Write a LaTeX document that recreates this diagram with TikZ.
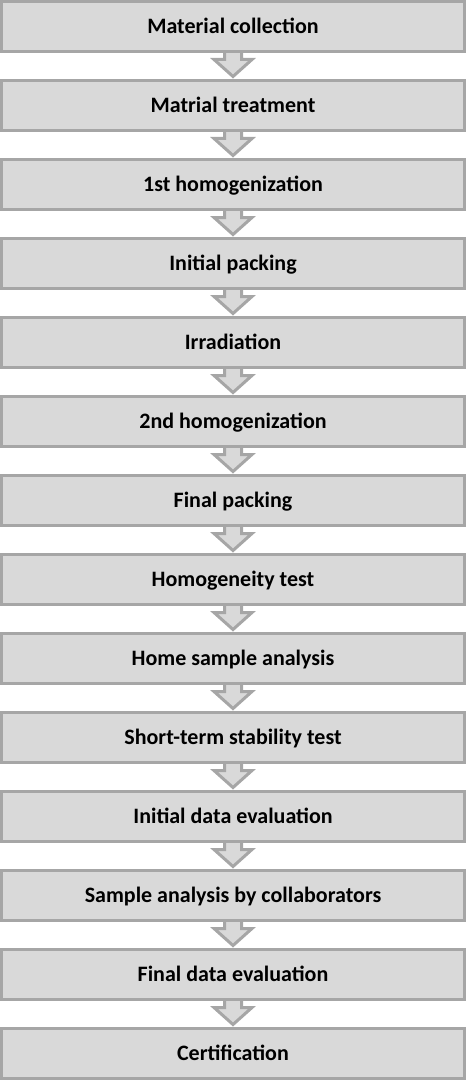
\documentclass[tikz,border=0pt]{standalone}
\usepackage{fontspec}
\setmainfont{Carlito}
\usetikzlibrary{calc,backgrounds}
\definecolor{boxline}{HTML}{A6A6A6}
\definecolor{boxfill}{HTML}{D9D9D9}
\tikzset{
  stepbox/.style={draw=boxline, fill=boxfill, line width=3pt, rectangle,
    minimum width=463pt, minimum height=50pt, inner sep=0pt,
    font=\fontsize{22}{26}\selectfont\bfseries, text height=14.2pt, text depth=0pt},
  blockarrow/.style={draw=boxline, fill=boxfill, line width=3pt, line join=miter},
}
\begin{document}
\begin{tikzpicture}[x=1pt,y=1pt]
\useasboundingbox (0,0) rectangle (474,-1089);
\foreach \t [count=\k from 0] in {Material collection, Matrial treatment, 1st homogenization, Initial packing, Irradiation, 2nd homogenization, Final packing, Homogeneity test, Home sample analysis, Short-term stability test, Initial data evaluation, Sample analysis by collaborators, Final data evaluation, Certification}{
  \node[stepbox] (b\k) at (233,{-(79*\k+26.5)}) {\t};
}
\begin{scope}[on background layer]
\foreach \i [evaluate=\i as \j using int(\i+1)] in {0,...,12}{
  \draw[blockarrow] ($(b\i.south)+(-8.5,3)$) -- ++(0,-9.5) -- ++(-10.5,0)
    -- ($(b\j.north)+(0,2.5)$) -- ($(b\i.south)+(19,-6.5)$) -- ++(-10.5,0) -- ++(0,9.5) -- cycle;
}
\end{scope}
\end{tikzpicture}
\end{document}
